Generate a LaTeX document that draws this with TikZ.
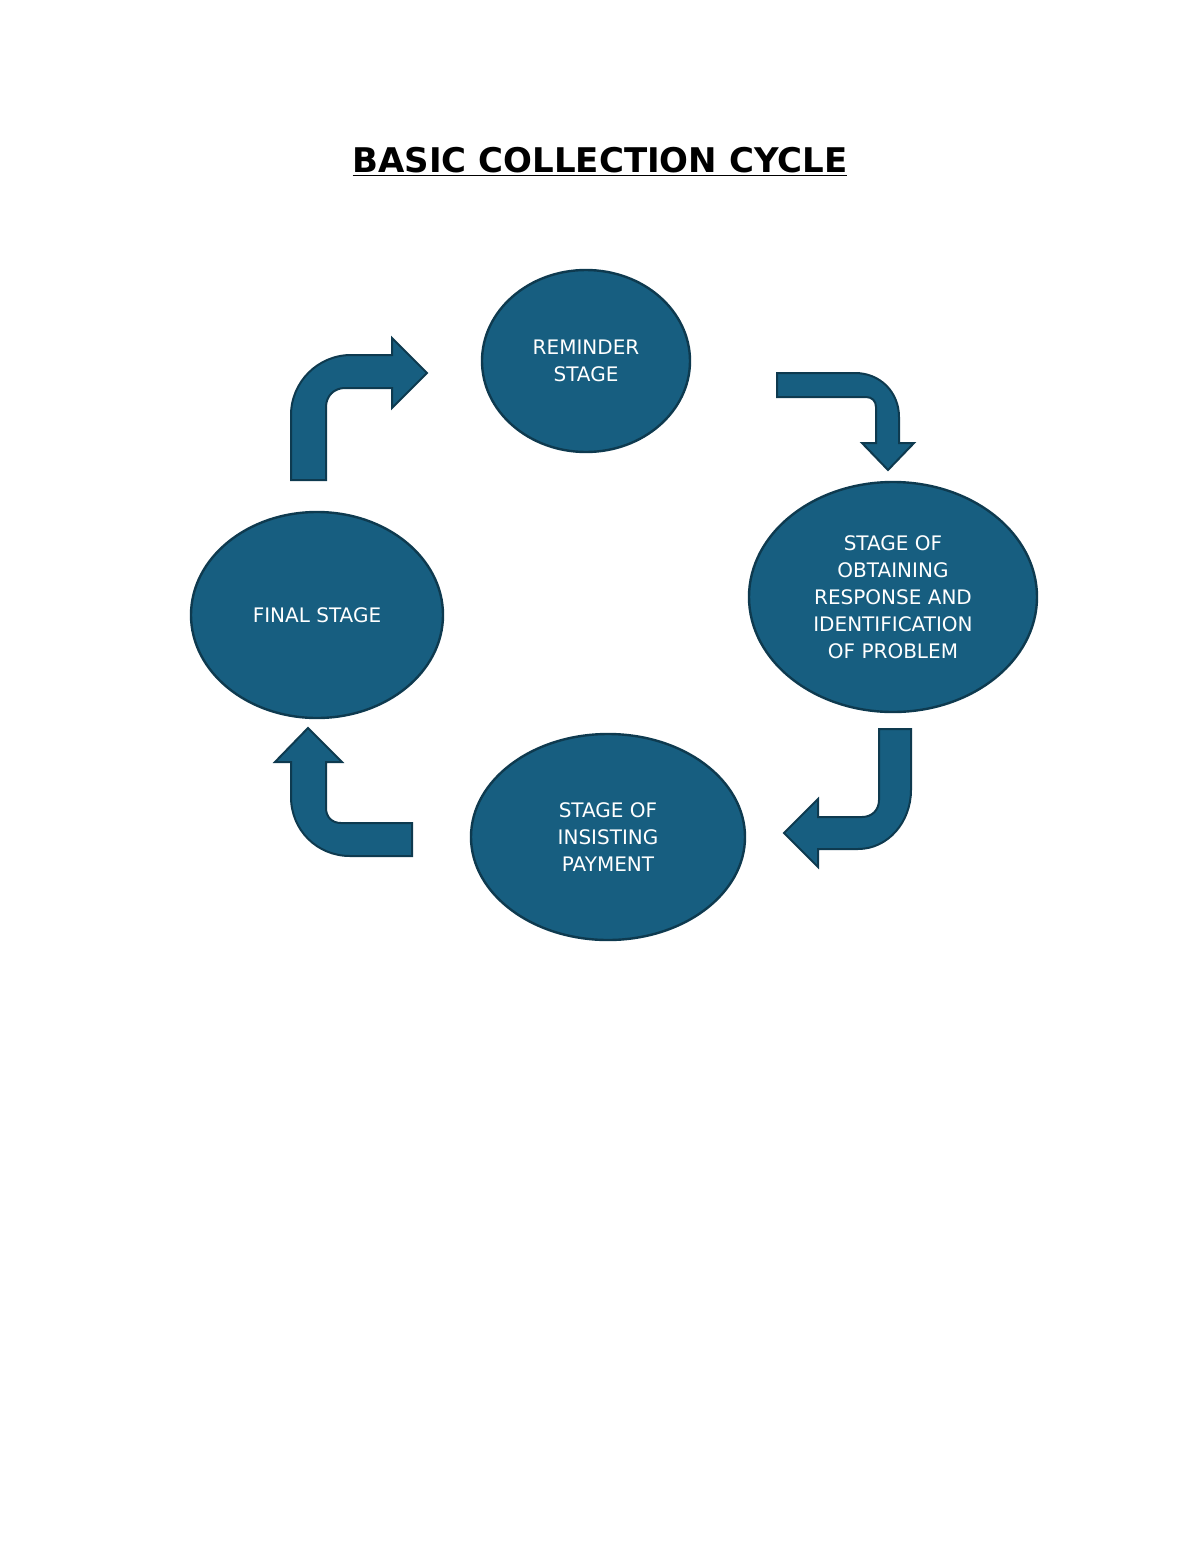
\documentclass[tikz,border=0pt]{standalone}
\usepackage{fontspec}
\setmainfont{DejaVu Sans}
\usetikzlibrary{shapes.geometric}
\definecolor{stagefill}{HTML}{175E80}
\definecolor{stageedge}{HTML}{0E3A4F}
\tikzset{
  stage/.style={ellipse,fill=stagefill,draw=stageedge,line width=1.2pt,text=white,align=center,font=\fontsize{10}{13.5}\selectfont,inner sep=0pt},
  bentarrow/.style={fill=stagefill,draw=stageedge,line width=1pt}
}
\begin{document}
\begin{tikzpicture}[x=0.5pt,y=-0.5pt]
\useasboundingbox (0,0) rectangle (1200,1553);
\node (title) at (600,162) {\fontsize{17}{20}\selectfont\bfseries\underline{BASIC COLLECTION CYCLE}};
\node[stage,minimum width=104pt,minimum height=91pt] (rem) at (586,361) {REMINDER\\STAGE};
\node[stage,minimum width=144pt,minimum height=115pt] (obt) at (893,597) {STAGE OF\\OBTAINING\\RESPONSE AND\\IDENTIFICATION\\OF PROBLEM};
\node[stage,minimum width=137pt,minimum height=103pt] (ins) at (608,837) {STAGE OF\\INSISTING\\PAYMENT};
\node[stage,minimum width=126pt,minimum height=103pt] (fin) at (317,615) {FINAL STAGE};
% arrow final -> reminder
\draw[bentarrow] (291,480) -- (291,415) .. controls (291,382) and (318,355) .. (351,355) -- (392,355) -- (392,338) -- (427,373) -- (392,408) -- (392,388) -- (345,388) .. controls (334,388) and (326,396) .. (326,407) -- (326,480) -- cycle;
% arrow reminder -> obtaining
\draw[bentarrow] (777,373) -- (855,373) .. controls (880,373) and (899,392) .. (899,417) -- (899,443) -- (914,443) -- (888,470) -- (862,443) -- (876,443) -- (876,407) .. controls (876,401) and (872,397) .. (866,397) -- (777,397) -- cycle;
% arrow obtaining -> insisting
\draw[bentarrow] (879,729) -- (911,729) -- (911,790) .. controls (911,822) and (888,849) .. (858,849) -- (818,849) -- (818,867) -- (784,833) -- (818,799) -- (818,817) -- (862,817) .. controls (872,817) and (879,810) .. (879,800) -- cycle;
% arrow insisting -> final
\draw[bentarrow] (412,823) -- (412,856) -- (350,856) .. controls (317,856) and (291,830) .. (291,797) -- (291,762) -- (275,762) -- (308,728) -- (342,762) -- (326,762) -- (326,808) .. controls (326,817) and (332,823) .. (341,823) -- cycle;
\end{tikzpicture}
\end{document}
